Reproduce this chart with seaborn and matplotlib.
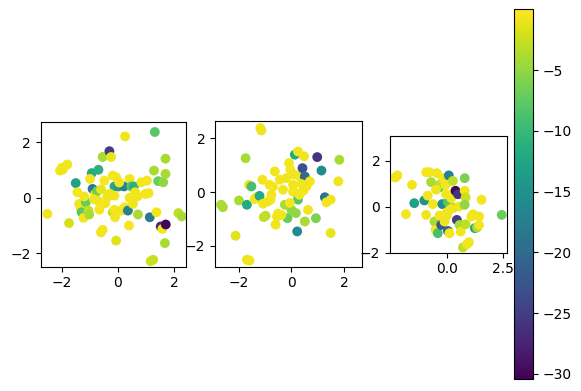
import numpy as np
import pandas as pd
import matplotlib
matplotlib.use("Agg")
import matplotlib.pyplot as plt
import seaborn as sns

# values (x, y, colour value)
x1 = [-2.51, -2.06, -2.00, -1.96, -1.80, -1.74, -1.50, -1.44, -1.38, -1.32, -1.29, -1.22,
      -1.14, -1.05, -1.02, -0.93, -0.90, -0.81, -0.74, -0.69, -0.72, -0.66, -0.60, -0.54,
      -0.54, -0.48, -0.38, -0.30, -0.24, -0.18, -0.12, -0.12, -0.18, -0.12, -0.06, -0.10,
      -0.06, 0.02, 0.12, 0.22, 0.26, 0.24, 0.36, 0.40, 0.42, 0.42, 0.48, 0.54, 0.57,
      0.62, 0.72, 0.84, 1.04, 0.98, 1.10, 1.14, 1.17, 1.26, 1.29, 1.32, 1.38, 1.44,
      1.53, 1.59, 1.62, 1.70, 1.70, 1.71, 1.68, 2.16, 2.28, -0.99, -0.60, -0.85, -0.30,
      0.05, -1.20, -0.45, 0.70]
y1 = [-0.58, 0.98, 1.08, 1.02, 1.20, -0.91, 0.53, 0.20, -0.22, -0.40, -0.52, -0.72,
      -0.16, -0.46, -0.60, 0.89, 0.32, 0.14, 0.24, 1.01, -0.10, -0.43, -1.24, -1.15,
      1.47, 0.62, 0.02, 1.68, 1.47, 0.80, 0.41, 0.08, -0.52, -0.43, 0.74, -0.70,
      -1.54, 0.41, -0.46, 0.41, 2.21, -0.34, -0.46, -1.00, 0.00, 0.68, 0.41, -0.22, 0.41,
      0.20, -0.60, 0.56, 0.62, 0.14, 0.17, -0.70, -2.28, -2.23, 0.98, 2.37, -0.52, 0.60,
      -1.03, -1.12, 0.56, 1.41, 0.86, -0.96, -1.63, -0.55, -0.67, 0.68, 0.30, -0.05, 0.15,
      0.55, 0.05, -0.20, 0.05]
c1 = [-0.5, -0.6, -0.4, -0.8, -0.7, -2.0, -13, -0.5, -0.6, -0.4, -8, -0.5,
      -7, -3, -4, -12, -18, -0.5, -7, -11, -0.6, -0.4, -0.8, -0.5,
      -4, -0.4, -0.6, -25, -1.0, -0.5, -12, -0.6, -3, -0.5, -0.4, -0.7,
      -1.5, -14, -0.6, -17, -0.8, -0.5, -17, -0.4, -0.6, -0.5, -8, -0.7, -11,
      -0.6, -4, -0.5, -0.4, -0.6, -0.5, -18, -2.0, -2.5, -4, -8, -0.5, -7,
      -27, -0.5, -5, -4, -4, -30, -4, -3, -4, -0.5, -1.2, -0.6, -0.8,
      -0.5, -0.7, -0.5, -0.6]

x2 = [-2.67, -2.60, -2.12, -1.99, -1.74, -1.69, -1.59, -1.69, -1.61, -1.52, -1.40, -1.33,
      -1.21, -1.18, -1.14, -1.10, -1.08, -1.05, -0.98, -0.83, -0.76, -0.79, -0.63, -0.55,
      -0.51, -0.44, -0.60, -0.32, -0.25, -0.19, -0.15, -0.09, -0.04, 0.00, 0.06, 0.06,
      0.13, 0.17, 0.17, 0.22, 0.25, 0.25, 0.32, 0.42, 0.48, 0.51, 0.51, 0.57, 0.63,
      0.70, 0.93, 0.98, 1.14, 1.27, 1.33, 1.49, 1.49, 1.78, 1.82, 0.45, -0.38, -0.06,
      0.38, -0.70, 0.10, -0.90, 0.30]
y2 = [-0.47, -0.56, -1.62, -0.31, 1.26, -2.51, -2.54, -0.47, 0.27, 0.21, -0.26, -0.19,
      -0.14, 2.38, 2.29, 0.46, -0.43, -0.93, -0.88, 0.27, -0.10, -0.28, 0.77, -0.90,
      -0.80, 0.46, -1.21, 0.09, -0.47, 0.52, -0.97, 1.08, 0.83, -0.66, 0.27, 0.02,
      1.39, -0.04, -0.78, -1.46, 1.51, -0.28, 0.58, 0.89, 1.33, 0.58, -1.09, 0.21, -0.66,
      0.40, -0.97, 1.30, 0.80, -0.19, -0.38, -0.28, -1.52, 0.40, 1.20, 0.05, -0.85, -0.40,
      0.30, 0.20, 0.65, -0.35, -0.10]
c2 = [-4, -4, -1.5, -4, -4, -0.8, -0.6, -12, -0.7, -9, -0.5, -0.6,
      -12, -0.5, -0.8, -0.6, -0.5, -3, -3, -0.5, -0.6, -0.4, -0.7, -0.5,
      -0.6, -0.5, -0.8, -0.5, -4, -0.6, -7, -0.5, -0.4, -5, -0.6, -0.5,
      -12, -0.5, -5, -16, -0.6, -8, -0.5, -23, -0.7, -20, -4, -0.5, -0.6,
      -0.5, -6, -26, -16, -19, -0.6, -0.7, -1.0, -0.8, -4, -0.5, -0.6, -0.5,
      -0.6, -0.5, -0.6, -0.7, -0.5]

x3 = [-2.32, -2.22, -1.84, -1.57, -1.47, -1.02, -0.94, -0.79, -0.87, -0.94, -0.72, -0.64,
      -0.57, -0.52, -0.46, -0.42, -0.37, -0.34, -0.31, -0.22, -0.27, -0.19, -0.07, -0.01,
      -0.01, 0.03, 0.03, 0.07, 0.10, 0.18, 0.25, 0.28, 0.33, 0.37, 0.43, 0.48, 0.52,
      0.55, 0.60, 0.70, 0.78, 0.78, 0.82, 0.78, 0.82, 0.88, 0.97, 1.08, 1.15, 1.23,
      1.33, 1.42, 1.42, 1.53, 2.43, -0.12, -0.05, -0.50, 0.15]
y3 = [1.28, 1.37, -0.32, 0.96, 0.16, 0.28, 1.51, 1.51, 0.49, -0.35, 1.08, 0.12,
      -0.64, -1.00, 1.47, -1.15, 0.84, -0.38, 0.99, 0.12, -0.79, 1.25, 0.96, -0.38,
      -0.23, 0.20, -1.05, 1.37, -1.15, 0.38, 1.13, -0.03, 0.67, 0.70, -0.57, 0.55, 0.01,
      -0.79, -1.08, -1.77, 1.25, 0.70, 0.41, 0.09, -0.76, -1.63, -1.54, -0.42, -0.32, -0.93,
      -0.90, -0.42, -0.79, 0.31, -0.35, -0.64, 0.55, 0.75, -0.10]
c3 = [-0.5, -0.6, -0.5, -0.7, -13, -15, -0.5, -0.6, -0.5, -0.7, -4, -0.5,
      -4, -0.6, -0.5, -9, -8, -0.5, -3, -16, -22, -0.6, -0.5, -0.7,
      -0.6, -8, -20, -17, -0.5, -0.6, -3, -3, -0.5, -30, -25, -26, -0.6,
      -4, -0.5, -3, -6, -0.5, -2.5, -5, -3, -0.6, -0.5, -0.7, -0.5, -12,
      -4, -0.6, -0.5, -0.5, -7, -0.6, -0.5, -0.8, -0.6]

xlims = [(-2.75, 2.42), (-2.9, 2.67), (-2.55, 2.68)]
ylims = [(-2.48, 2.74), (-2.77, 2.64), (-2.0, 3.09)]
cmin, cmax = -30.44, 0.0

panels = [(x1, y1, c1), (x2, y2, c2), (x3, y3, c3)]

fig = plt.figure(figsize=(5.81, 3.91), dpi=100)
rects = [[0.0700, 0.3179, 0.2496, 0.3708],
         [0.3701, 0.3179, 0.2525, 0.3726],
         [0.6713, 0.3537, 0.2019, 0.2985]]

for (xs, ys, cs), rect, xl, yl in zip(panels, rects, xlims, ylims):
    ax = fig.add_axes(rect)
    df = pd.DataFrame({"x": xs, "y": ys, "c": cs})
    sns.scatterplot(data=df, x="x", y="y", hue="c", palette="viridis",
                    hue_norm=(cmin, cmax), s=50, linewidth=0, legend=False, ax=ax)
    ax.set_xlim(xl)
    ax.set_ylim(yl)
    ax.set_xlabel("")
    ax.set_ylabel("")

ax3 = fig.axes[2]
ax3.set_xticks([0.0, 2.5])
ax3.set_xticklabels(["0.0", "2.5"])

# colorbar on the right
cax = fig.add_axes([0.8852, 0.0299, 0.0327, 0.9463])
sm = plt.cm.ScalarMappable(cmap="viridis", norm=plt.Normalize(cmin, cmax))
fig.colorbar(sm, cax=cax, ticks=[-5, -10, -15, -20, -25, -30])

fig.savefig("out.png", dpi=100)
